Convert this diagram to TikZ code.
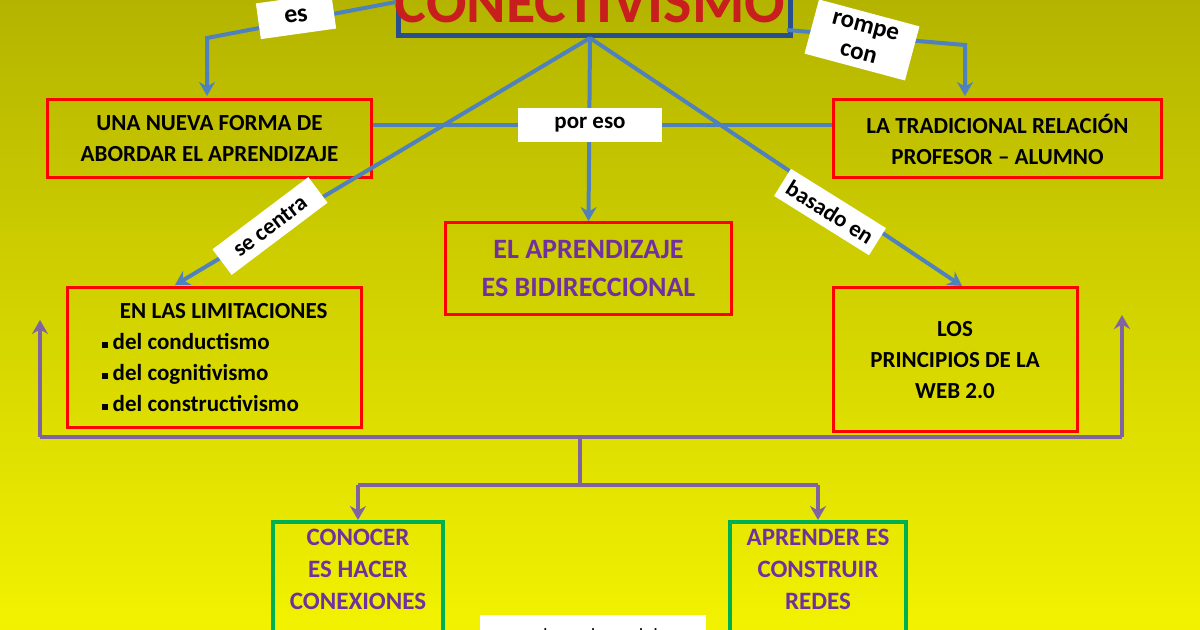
\documentclass[tikz,border=0pt]{standalone}
\usepackage{fontspec}
\setmainfont{Carlito}
\usetikzlibrary{arrows.meta}
\definecolor{bluel}{HTML}{4F81BD}
\definecolor{purl}{HTML}{8064A2}
\definecolor{redb}{HTML}{FF0000}
\definecolor{greenb}{HTML}{00B050}
\definecolor{txtp}{HTML}{7030A0}
\tikzset{
 bl/.style={draw=bluel,line width=2pt},
 pl/.style={draw=purl,line width=2pt},
 arr/.style={-{Stealth[length=7pt,width=8pt]}},
 redbox/.style={draw=redb,line width=1.5pt,align=center,font=\bfseries\fontsize{11.5}{15.5}\selectfont},
 grbox/.style={draw=greenb,line width=2pt,align=center,text=txtp,font=\bfseries\fontsize{12.5}{16}\selectfont},
 lbl/.style={fill=white,font=\bfseries\fontsize{11.5}{12}\selectfont,align=center}
}
\begin{document}
\begin{tikzpicture}[x=0.5pt,y=-0.5pt]
\useasboundingbox (0,0) rectangle (1200,630);
\clip (0,0) rectangle (1200,630);
\shade[top color={rgb,255:red,180;green,180;blue,0},bottom color={rgb,255:red,242;green,242;blue,0}] (0,0) rectangle (1200,630);
% title
\node[draw={rgb,255:red,40;green,80;blue,140},line width=2.5pt,minimum width=196pt,minimum height=30pt,anchor=south west] (t) at (396,38) {};
\node[text={rgb,255:red,200;green,30;blue,30},font=\bfseries\fontsize{30}{30}\selectfont] at (590,3) {CONECTIVISMO};
% boxes
\node[redbox,minimum width=162pt,minimum height=39pt] (b1) at (209.5,139) {UNA NUEVA FORMA DE\\ABORDAR EL APRENDIZAJE};
\node[redbox,minimum width=164pt,minimum height=39pt] (b2) at (997.5,139) {LA TRADICIONAL RELACIÓN\\PROFESOR – ALUMNO};
\node[redbox,minimum width=143pt,minimum height=46pt,text=txtp,font=\bfseries\fontsize{14}{19}\selectfont] (b3) at (588.5,268.5) {EL APRENDIZAJE\\ES BIDIRECCIONAL};
\node[redbox,minimum width=147pt,minimum height=70pt,align=left] (b4) at (214.5,358) {\hspace*{0.8em}EN LAS LIMITACIONES\\[0pt]
 \rule[1pt]{3pt}{3pt}\ del conductismo\\[0pt] \rule[1pt]{3pt}{3pt}\ del cognitivismo\\[0pt] \rule[1pt]{3pt}{3pt}\ del constructivismo};
\node[redbox,minimum width=122pt,minimum height=72pt] (b5) at (955,360) {LOS\\PRINCIPIOS DE LA\\WEB 2.0};
\node[grbox,minimum width=85pt,minimum height=65pt,anchor=north] (g1) at (358,520) {CONOCER\\ES HACER\\CONEXIONES\\[6pt]};
\node[grbox,minimum width=88pt,minimum height=65pt,anchor=north] (g2) at (818,520) {APRENDER ES\\CONSTRUIR\\REDES\\[6pt]};
% blue connectors
\coordinate (tl) at (396,2); \coordinate (tr) at (787,30);
\coordinate (tb) at (590,38);
\draw[bl,arr] (tl) -- (207,38) -- (207,96);
\draw[bl,arr] (tr) -- (965,45) -- (965,96);
\draw[bl] (b1.east|-0,125) -- (b2.west|-0,125);
\draw[bl,arr] (tb) -- (b3.north);
\draw[bl,arr] (tb) -- (175,285);
\draw[bl,arr] (tb) -- (962,286);
% labels
\node[lbl,rotate=8,minimum width=38pt,minimum height=18pt,font=\bfseries\fontsize{13}{13}\selectfont] (l1) at (296,16) {es};
\node[lbl,rotate=-15,minimum width=52pt,minimum height=28pt,font=\bfseries\fontsize{12.5}{14}\selectfont] (l2) at (862,40) {rompe\\con};
\node[lbl,minimum width=72pt,minimum height=17pt] (l3) at (590,125) {por eso};
\node[lbl,rotate=37,minimum width=60pt,minimum height=16pt] (l4) at (270,226) {se centra};
\node[lbl,rotate=-32,minimum width=56pt,minimum height=16pt] (l5) at (830,212) {basado en};
% purple connectors
\coordinate (pl) at (40,437); \coordinate (pr) at (1122,437); \coordinate (pm) at (580,437); \coordinate (pd) at (580,485);
\draw[pl] (pl) -- (pr);
\draw[pl,arr] (pl) -- (40,320);
\draw[pl,arr] (pr) -- (1122,315);
\draw[pl] (pm) -- (pd);
\draw[pl] (g1.north|-pd) -- (g2.north|-pd);
\draw[pl,arr] (g1.north|-pd) -- (g1.north);
\draw[pl,arr] (g2.north|-pd) -- (g2.north);
\node[fill=white,minimum width=113pt,minimum height=18pt,anchor=north west,font=\fontsize{10}{11}\selectfont,text depth=0pt] (l6) at (480,615) {\raisebox{-2pt}{para lograrlo se deben}};
\end{tikzpicture}
\end{document}
